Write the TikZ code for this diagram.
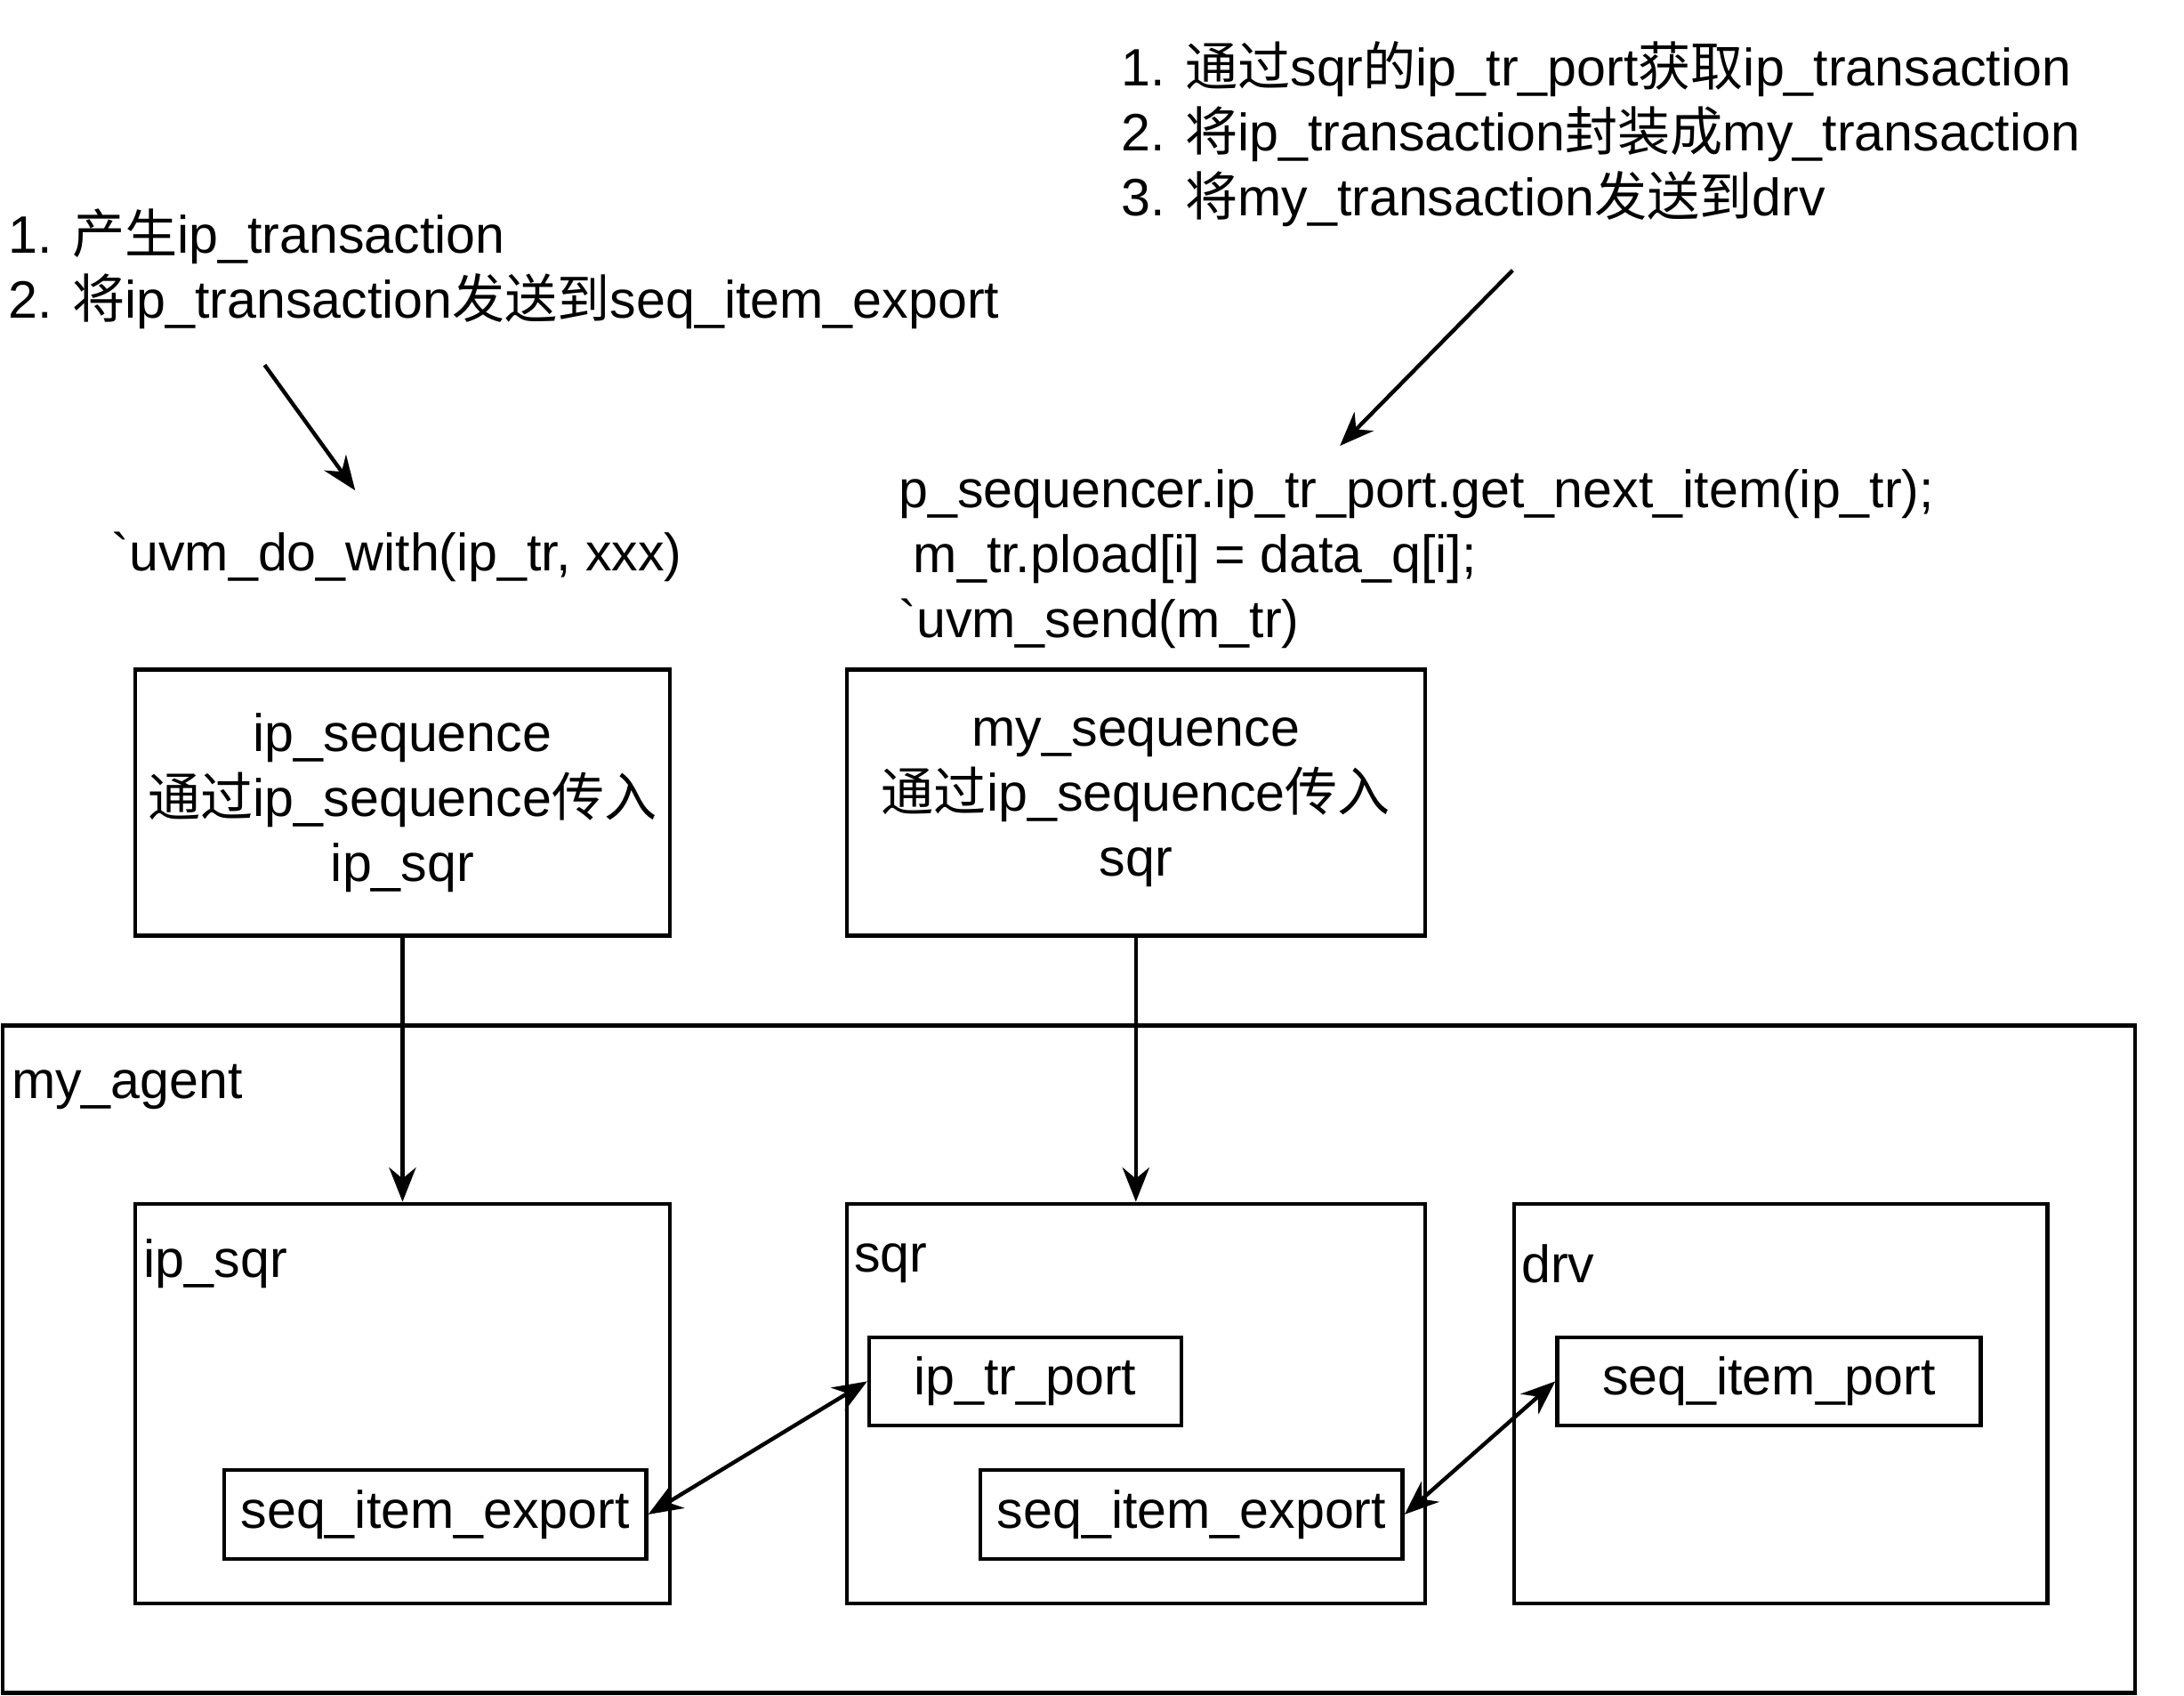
\documentclass[tikz,border=0pt]{standalone}
\usepackage{fontspec}
\setmainfont{Liberation Sans}
\newfontfamily\cjk{Noto Sans CJK SC}
\usetikzlibrary{arrows.meta,positioning}
\newcommand{\zh}[1]{{\cjk #1}}
\tikzstyle{box} = [rectangle, draw, line width=1.6pt, inner sep=0pt]
\tikzstyle{port} = [rectangle, draw, line width=1.6pt, inner sep=0pt, font=\fontsize{21.5}{27}\selectfont]
\tikzstyle{note} = [align=left, anchor=west, inner sep=0pt, font=\fontsize{21.5}{26.5}\selectfont]
\tikzstyle{line} = [draw, line width=1.6pt, -{Stealth[length=14pt,width=11pt]}]
\tikzstyle{dline} = [draw, line width=1.6pt, {Stealth[length=14pt,width=11pt]}-{Stealth[length=14pt,width=11pt]}]

\begin{document}
\begin{tikzpicture}[x=0.02cm, y=-0.02cm]
    \useasboundingbox (0,0) rectangle (1568,1217);
    % Place nodes
    \node [note] (noteR) at (805,96) {1. \zh{通过}sqr\zh{的}ip\_tr\_port\zh{获取}ip\_transaction\\2. \zh{将}ip\_transaction\zh{封装成}my\_transaction\\3. \zh{将}my\_transaction\zh{发送到}drv};
    \node [note] (noteL) at (6,193) {1. \zh{产生}ip\_transaction\\2. \zh{将}ip\_transaction\zh{发送到}seq\_item\_export};
    \node [note] (codeL) at (80,400) {\textasciigrave uvm\_do\_with(ip\_tr, xxx)};
    \node [note] (codeR) at (645,401) {p\_sequencer.ip\_tr\_port.get\_next\_item(ip\_tr);\\\ m\_tr.pload[i] = data\_q[i];\\\textasciigrave uvm\_send(m\_tr)};
    \coordinate (tailL) at (190,262);
    \coordinate (headL) at (255,352);
    \coordinate (tailR) at (1086,194);
    \coordinate (headR) at (962,320);

    \node [box, minimum width=384*0.02cm, minimum height=191*0.02cm, align=center, font=\fontsize{21.5}{26.5}\selectfont] (ipseq) at (289,576) {ip\_sequence\\\zh{通过}ip\_sequence\zh{传入}\\ip\_sqr};
    \node [box, minimum width=415*0.02cm, minimum height=191*0.02cm, align=center, font=\fontsize{21.5}{26.5}\selectfont] (myseq) at (815.5,576) {my\_sequence\\\zh{通过}ip\_sequence\zh{传入}\\sqr};

    \draw [line width=1.6pt] (2,736) rectangle (1533,1215);
    \node [note] (agent) at (8,780) {my\_agent};

    \node [box, minimum width=384*0.02cm, minimum height=287*0.02cm] (ipsqr) at (289,1007.5) {};
    \node [box, minimum width=415*0.02cm, minimum height=287*0.02cm] (sqr) at (815.5,1007.5) {};
    \node [box, minimum width=383*0.02cm, minimum height=287*0.02cm] (drv) at (1278.5,1007.5) {};
    \node [note] at (103,907) {ip\_sqr};
    \node [note] at (613,907) {sqr};
    \node [note] at (1092,907) {drv};

    \node [port, minimum width=224*0.02cm, minimum height=63*0.02cm] (iptrport) at (736,991.5) {ip\_tr\_port};
    \node [port, minimum width=303*0.02cm, minimum height=64*0.02cm] (sqrexp) at (855.5,1087) {seq\_item\_export};
    \node [port, minimum width=303*0.02cm, minimum height=64*0.02cm] (ipexp) at (312.5,1087) {seq\_item\_export};
    \node [port, minimum width=304*0.02cm, minimum height=63*0.02cm] (drvport) at (1270,991.5) {seq\_item\_port};

    % Draw edges
    \path [line] (tailL) -- (headL);
    \path [line] (tailR) -- (headR);
    \path [line] (ipseq.south) -- (ipsqr.north);
    \path [line] (myseq.south) -- (sqr.north);
    \path [dline] (ipexp.east) -- (iptrport.west);
    \path [dline] (sqrexp.east) -- (drvport.west);
\end{tikzpicture}
\end{document}
